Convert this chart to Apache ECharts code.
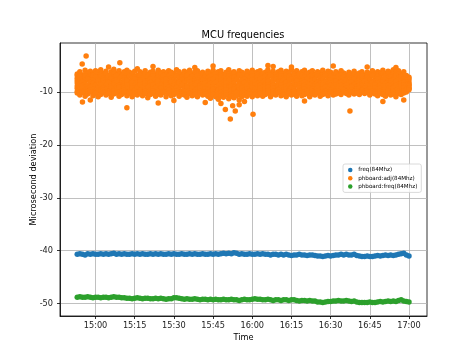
<!DOCTYPE html>
<html>
<head>
<meta charset="utf-8">
<script src="https://cdn.jsdelivr.net/npm/echarts@6/dist/echarts.min.js"></script>
<style>
html,body{margin:0;padding:0;background:#fff;}
#chart{width:474px;height:355px;}
</style>
</head>
<body>
<div id="chart"></div>
<script>
// Time of each sample, minutes relative to 15:00
const sampleMinutes = [-7,-6,-5,-4,-3,-2,-1,0,1,2,3,4,5,6,7,8,9,10,11,12,13,14,15,16,17,18,19,20,21,22,23,24,25,26,27,28,29,30,31,32,33,34,35,36,37,38,39,40,41,42,43,44,45,46,47,48,49,50,51,52,53,54,55,56,57,58,59,60,61,62,63,64,65,66,67,68,69,70,71,72,73,74,75,76,77,78,79,80,81,82,83,84,85,86,87,88,89,90,91,92,93,94,95,96,97,98,99,100,101,102,103,104,105,106,107,108,109,110,111,112,113,114,115,116,117,118,119,120];

const tickMinutes = [0,15,30,45,60,75,90,105,120];
const tickLabels = ['15:00','15:15','15:30','15:45','16:00','16:15','16:30','16:45','17:00'];
const yTicks = [-50,-40,-30,-20,-10];

const seriesNames = ['freq(84Mhz)','phboard:adj(84Mhz)','phboard:freq(84Mhz)'];

// freq(84Mhz)
const freqValues = [
-40.7,-40.6,-40.7,-40.8,-40.6,-40.7,-40.6,-40.7,-40.7,-40.6,
-40.7,-40.6,-40.7,-40.6,-40.5,-40.7,-40.6,-40.7,-40.6,-40.7,
-40.7,-40.6,-40.7,-40.6,-40.7,-40.6,-40.7,-40.7,-40.6,-40.7,
-40.6,-40.7,-40.6,-40.7,-40.7,-40.6,-40.7,-40.6,-40.7,-40.7,
-40.6,-40.7,-40.7,-40.6,-40.7,-40.6,-40.7,-40.7,-40.6,-40.7,
-40.7,-40.6,-40.7,-40.6,-40.7,-40.6,-40.5,-40.6,-40.5,-40.6,
-40.4,-40.5,-40.7,-40.6,-40.7,-40.7,-40.6,-40.7,-40.7,-40.6,
-40.7,-40.6,-40.7,-40.7,-40.8,-40.7,-40.7,-40.8,-40.7,-40.8,
-40.7,-40.8,-40.9,-40.8,-40.8,-40.7,-40.8,-40.8,-40.9,-40.8,
-40.8,-40.9,-41.0,-41.0,-41.1,-41.0,-40.9,-41.0,-40.9,-40.8,
-40.8,-40.7,-40.8,-40.7,-40.8,-40.8,-40.7,-40.9,-41.0,-41.1,
-41.1,-41.0,-41.1,-41.1,-41.0,-40.9,-41.0,-40.9,-40.8,-40.9,
-40.8,-40.9,-40.8,-40.7,-40.6,-40.5,-40.8,-41.0];

// phboard:freq(84Mhz)
const phFreqValues = [
-48.8,-48.7,-48.8,-48.8,-48.7,-48.8,-48.9,-48.8,-48.8,-48.9,
-48.8,-48.8,-48.9,-48.8,-48.7,-48.8,-48.8,-48.9,-48.9,-49.0,
-49.0,-49.1,-49.0,-48.9,-49.0,-49.1,-49.0,-49.0,-49.1,-49.1,
-49.0,-49.1,-49.0,-49.1,-49.2,-49.1,-49.1,-48.9,-48.9,-49.0,
-49.1,-49.2,-49.1,-49.2,-49.2,-49.1,-49.2,-49.3,-49.2,-49.2,
-49.3,-49.2,-49.3,-49.2,-49.3,-49.3,-49.2,-49.3,-49.3,-49.2,
-49.3,-49.3,-49.4,-49.3,-49.2,-49.3,-49.3,-49.2,-49.1,-49.2,
-49.2,-49.3,-49.3,-49.2,-49.3,-49.4,-49.3,-49.3,-49.4,-49.3,
-49.3,-49.4,-49.3,-49.3,-49.4,-49.5,-49.4,-49.4,-49.5,-49.4,
-49.5,-49.5,-49.7,-49.7,-49.8,-49.7,-49.6,-49.6,-49.5,-49.5,
-49.4,-49.5,-49.5,-49.4,-49.5,-49.6,-49.5,-49.7,-49.8,-49.8,
-49.8,-49.8,-49.7,-49.8,-49.8,-49.7,-49.6,-49.7,-49.6,-49.5,
-49.6,-49.5,-49.6,-49.4,-49.3,-49.5,-49.6,-49.7];

// phboard:adj(84Mhz) - the dense band, read as several rows per sample time
const adjTop = [
-6.6,-6.2,-6.8,-5.9,-6.4,-6.1,-6.7,-6.0,-6.3,-5.8,
-6.5,-6.1,-6.9,-6.2,-5.7,-6.4,-6.0,-6.6,-6.2,-5.9,
-6.3,-6.8,-6.1,-5.6,-6.2,-6.5,-6.0,-6.7,-6.3,-6.1,
-6.6,-5.9,-6.4,-6.2,-6.8,-6.0,-6.3,-6.5,-5.8,-6.2,
-6.7,-6.1,-6.4,-5.9,-6.6,-6.2,-6.0,-6.5,-6.3,-6.8,
-6.1,-6.4,-5.9,-6.6,-6.2,-6.0,-6.7,-6.3,-5.8,-6.4,
-6.2,-6.6,-6.0,-6.3,-6.9,-6.1,-6.4,-5.9,-6.5,-6.2,
-6.0,-6.6,-6.3,-5.8,-6.4,-6.1,-6.7,-6.2,-5.9,-6.5,
-6.1,-6.3,-5.7,-6.4,-6.0,-6.6,-6.2,-5.9,-6.5,-6.3,
-6.0,-6.7,-6.2,-6.4,-5.9,-6.6,-6.1,-6.3,-6.8,-6.2,
-6.5,-6.0,-6.4,-6.9,-6.3,-6.6,-6.1,-6.7,-6.4,-6.2,
-6.8,-6.3,-6.5,-6.0,-6.6,-6.2,-6.4,-5.9,-6.5,-6.1,
-6.3,-5.8,-6.4,-6.0,-6.6,-6.2,-6.9,-7.2];
const adjUpper2 = [
-6.9,-6.6,-7.1,-6.7,-6.5,-7.0,-6.8,-6.6,-7.2,-6.7,
-6.9,-6.5,-7.0,-6.8,-6.6,-7.1,-6.7,-6.9,-6.5,-7.0,
-6.8,-6.6,-7.1,-6.9,-6.7,-7.0,-6.5,-6.8,-7.2,-6.6,
-7.0,-6.8,-6.6,-7.1,-6.7,-6.9,-6.5,-7.0,-6.8,-6.6,
-7.1,-6.7,-6.9,-6.6,-7.0,-6.8,-6.5,-7.2,-6.7,-6.9,
-6.6,-7.0,-6.8,-6.5,-7.1,-6.7,-6.9,-6.6,-7.0,-6.8,
-6.5,-7.1,-6.7,-6.9,-6.6,-7.0,-6.8,-6.5,-7.2,-6.7,
-6.9,-6.6,-7.0,-6.8,-6.5,-7.1,-6.7,-6.9,-6.6,-7.0,
-6.8,-6.5,-7.1,-6.7,-6.9,-6.6,-7.0,-6.8,-6.5,-7.2,
-6.7,-6.9,-6.6,-7.0,-6.8,-6.5,-7.1,-6.7,-6.9,-6.6,
-7.0,-6.8,-6.9,-7.1,-6.7,-7.0,-6.8,-7.2,-6.9,-6.7,
-7.1,-6.8,-7.0,-6.6,-6.9,-6.7,-7.0,-6.5,-6.8,-6.6,
-6.9,-6.7,-7.0,-6.6,-6.8,-6.7,-7.3,-7.6];
const adjUpper = [
-7.4,-7.1,-7.6,-7.0,-7.3,-7.5,-6.9,-7.2,-7.7,-7.1,
-7.3,-7.6,-7.0,-7.4,-7.2,-6.9,-7.5,-7.1,-7.3,-7.7,
-7.0,-7.4,-7.2,-7.6,-6.9,-7.3,-7.5,-7.1,-7.4,-7.0,
-7.6,-7.2,-7.3,-6.9,-7.5,-7.1,-7.4,-7.7,-7.0,-7.3,
-7.2,-7.6,-7.0,-7.4,-7.1,-7.5,-6.9,-7.3,-7.6,-7.2,
-7.4,-7.0,-7.5,-7.2,-7.7,-7.1,-7.3,-7.6,-7.0,-7.4,
-7.2,-7.5,-6.9,-7.3,-7.6,-7.1,-7.4,-7.0,-7.5,-7.2,
-7.3,-7.7,-7.1,-7.4,-6.9,-7.5,-7.2,-7.6,-7.0,-7.3,
-7.4,-7.1,-7.6,-7.0,-7.3,-7.5,-6.9,-7.2,-7.7,-7.1,
-7.3,-7.6,-7.0,-7.4,-7.2,-6.9,-7.5,-7.1,-7.3,-7.7,
-7.0,-7.4,-7.2,-7.6,-6.9,-7.3,-7.5,-7.1,-7.4,-7.0,
-7.6,-7.2,-7.3,-6.9,-7.5,-7.1,-7.4,-7.7,-7.0,-7.3,
-7.2,-7.6,-7.0,-7.4,-7.1,-7.5,-7.8,-8.1];
const adjMid2 = [
-7.9,-7.7,-8.0,-7.8,-7.6,-8.1,-7.8,-7.9,-7.7,-8.0,
-7.7,-8.1,-7.9,-7.6,-8.0,-7.8,-7.9,-8.1,-7.7,-7.8,
-8.0,-7.9,-7.6,-8.1,-7.8,-7.7,-8.0,-7.9,-7.6,-8.2,
-7.8,-7.7,-8.0,-7.9,-7.6,-8.1,-7.8,-7.7,-8.0,-7.9,
-7.7,-8.1,-7.8,-7.6,-8.0,-7.9,-7.7,-8.2,-7.8,-7.9,
-8.1,-7.8,-7.7,-8.2,-7.9,-7.8,-8.1,-7.9,-7.8,-8.2,
-7.9,-7.7,-8.1,-7.8,-7.6,-8.0,-7.9,-7.7,-8.1,-7.8,
-7.6,-8.0,-7.9,-7.7,-8.1,-7.8,-7.6,-8.0,-7.9,-7.8,
-8.1,-7.7,-7.6,-8.0,-7.8,-7.9,-8.1,-7.7,-7.6,-8.0,
-7.8,-7.7,-8.1,-7.9,-7.6,-8.0,-7.8,-7.7,-8.1,-7.9,
-7.7,-8.0,-7.8,-7.9,-8.1,-7.7,-7.6,-8.0,-7.8,-7.9,
-8.1,-7.7,-7.8,-8.0,-7.9,-7.6,-8.1,-7.8,-7.7,-8.0,
-7.9,-7.8,-8.0,-7.7,-7.9,-8.1,-8.2,-8.5];
const adjMid = [
-8.3,-8.6,-8.1,-8.5,-8.8,-8.2,-8.4,-8.7,-8.0,-8.5,
-8.3,-8.9,-8.2,-8.6,-8.4,-8.1,-8.7,-8.3,-8.5,-8.0,
-8.6,-8.2,-8.8,-8.4,-8.1,-8.5,-8.3,-8.7,-8.2,-8.6,
-8.4,-8.0,-8.5,-8.8,-8.3,-8.6,-8.1,-8.4,-8.7,-8.2,
-8.5,-8.3,-8.9,-8.1,-8.6,-8.4,-8.2,-8.7,-8.5,-8.3,
-8.8,-8.4,-8.6,-8.2,-8.9,-8.5,-8.7,-8.3,-8.8,-8.6,
-8.4,-8.9,-8.5,-8.7,-8.2,-8.6,-8.3,-8.5,-8.1,-8.4,
-8.7,-8.2,-8.5,-8.0,-8.6,-8.3,-8.8,-8.1,-8.4,-8.6,
-8.2,-8.5,-8.7,-8.3,-8.0,-8.6,-8.4,-8.1,-8.5,-8.8,
-8.3,-8.6,-8.2,-8.4,-8.7,-8.1,-8.5,-8.3,-8.6,-8.0,
-8.4,-8.2,-8.5,-8.7,-8.3,-8.1,-8.6,-8.4,-8.2,-8.5,
-8.0,-8.4,-8.7,-8.2,-8.5,-8.3,-8.6,-8.1,-8.4,-8.7,
-8.3,-8.5,-8.1,-8.6,-8.4,-8.2,-8.5,-8.7];
const adjLower2 = [
-8.9,-9.1,-8.8,-9.0,-8.7,-9.2,-8.9,-8.8,-9.1,-8.7,
-9.0,-8.8,-9.2,-8.9,-8.7,-9.1,-8.8,-9.0,-8.9,-8.7,
-9.2,-8.9,-8.8,-9.1,-8.7,-9.0,-8.9,-9.2,-8.8,-8.7,
-9.1,-8.9,-8.8,-9.0,-8.7,-9.2,-8.9,-8.8,-9.1,-9.0,
-8.8,-9.2,-8.9,-9.0,-9.1,-8.8,-9.2,-8.9,-9.0,-9.3,
-8.9,-9.2,-9.0,-9.3,-8.9,-9.1,-9.3,-9.0,-9.2,-8.9,
-9.1,-9.3,-8.9,-9.0,-9.2,-8.8,-9.1,-8.9,-8.7,-9.0,
-8.8,-9.1,-8.9,-8.7,-9.0,-8.8,-9.2,-8.9,-8.7,-9.1,
-8.9,-8.8,-9.0,-9.2,-8.7,-8.9,-9.1,-8.8,-9.0,-8.7,
-9.2,-8.9,-8.8,-9.1,-8.7,-9.0,-8.9,-8.8,-9.1,-8.7,
-8.9,-8.8,-9.0,-8.7,-9.1,-8.9,-8.8,-9.0,-8.7,-8.9,
-9.1,-8.8,-8.9,-9.0,-8.7,-9.1,-8.8,-8.9,-9.0,-8.8,
-8.9,-9.1,-8.8,-9.0,-8.9,-8.7,-8.8,-8.9];
const adjLower = [
-9.3,-9.6,-9.2,-9.7,-9.4,-9.1,-9.5,-9.8,-9.3,-9.6,
-9.2,-9.5,-9.9,-9.3,-9.6,-9.4,-9.1,-9.7,-9.3,-9.5,
-9.8,-9.2,-9.6,-9.4,-9.9,-9.3,-9.5,-9.1,-9.7,-9.4,
-9.2,-9.6,-9.3,-9.8,-9.5,-9.1,-9.4,-9.7,-9.3,-9.6,
-9.9,-9.4,-9.2,-9.6,-9.3,-9.7,-9.5,-9.2,-9.8,-9.4,
-9.6,-9.9,-9.5,-10.0,-9.7,-9.4,-9.8,-9.6,-10.1,-9.7,
-9.5,-9.9,-9.6,-9.3,-9.7,-9.4,-9.8,-9.2,-9.5,-9.6,
-9.3,-9.7,-9.4,-9.1,-9.6,-9.3,-9.8,-9.5,-9.2,-9.6,
-9.4,-9.7,-9.3,-9.5,-9.9,-9.2,-9.6,-9.4,-9.7,-9.3,
-9.5,-9.8,-9.2,-9.6,-9.4,-9.1,-9.5,-9.7,-9.3,-9.6,
-9.2,-9.4,-9.7,-9.3,-9.5,-9.1,-9.6,-9.4,-9.2,-9.5,
-9.3,-9.6,-9.4,-9.8,-9.2,-9.5,-9.3,-9.7,-9.4,-9.6,
-9.5,-9.3,-9.7,-9.4,-9.6,-9.2,-9.5,-9.3];
const adjBottom2 = [
-9.9,-10.1,-9.8,-10.2,-9.9,-9.7,-10.0,-10.2,-9.8,-10.0,
-9.7,-10.1,-9.9,-10.3,-9.8,-10.0,-10.2,-9.9,-9.7,-10.1,
-10.0,-10.2,-9.8,-10.0,-9.7,-10.1,-9.9,-10.3,-10.0,-9.8,
-10.1,-9.9,-10.2,-9.8,-10.0,-9.7,-10.1,-9.9,-9.8,-10.2,
-10.0,-9.9,-10.3,-9.8,-10.1,-10.0,-10.2,-9.9,-10.1,-10.0,
-10.2,-10.4,-10.0,-10.3,-10.5,-10.1,-10.4,-10.2,-10.6,-10.3,
-10.4,-10.1,-10.5,-10.2,-10.0,-10.2,-9.9,-10.3,-10.0,-10.1,
-9.8,-10.2,-10.0,-9.8,-10.3,-9.9,-10.1,-9.7,-10.2,-10.0,
-10.3,-9.9,-10.1,-9.9,-10.2,-9.8,-10.1,-10.0,-9.8,-10.3,
-9.9,-10.1,-9.8,-10.2,-10.0,-9.9,-10.1,-9.7,-10.0,-9.9,
-9.8,-10.0,-9.7,-9.9,-10.1,-9.7,-9.9,-9.8,-10.0,-9.7,
-9.9,-9.8,-10.1,-9.8,-10.0,-10.2,-9.9,-10.0,-10.2,-9.8,
-10.1,-9.9,-10.3,-9.9,-10.0,-9.8,-9.6,-9.3];
const adjBottom = [
-10.2,-10.6,-10.1,-10.8,-10.4,-10.0,-10.7,-10.3,-10.9,-10.5,
-10.1,-10.6,-10.3,-11.0,-10.4,-10.2,-10.8,-10.5,-10.1,-10.7,
-10.3,-10.9,-10.4,-10.6,-10.0,-10.7,-10.3,-11.1,-10.5,-10.2,
-10.8,-10.4,-10.6,-10.1,-10.9,-10.3,-10.7,-10.5,-10.2,-10.8,
-10.4,-10.6,-11.0,-10.3,-10.7,-10.5,-10.9,-10.2,-10.6,-10.4,
-10.8,-11.2,-10.5,-10.9,-11.4,-10.7,-11.0,-10.6,-11.3,-10.8,
-11.1,-10.7,-11.5,-10.9,-10.6,-10.8,-10.4,-10.9,-10.5,-10.7,
-10.3,-10.8,-10.5,-10.2,-10.9,-10.4,-10.6,-10.1,-10.7,-10.5,
-10.9,-10.3,-10.6,-10.4,-10.8,-10.2,-10.7,-10.5,-10.3,-10.9,
-10.4,-10.6,-10.2,-10.8,-10.5,-10.3,-10.7,-10.1,-10.6,-10.4,
-10.2,-10.5,-10.0,-10.3,-10.6,-10.1,-10.4,-10.2,-10.5,-10.0,
-10.3,-10.1,-10.6,-10.2,-10.4,-10.7,-10.3,-10.5,-10.8,-10.2,
-10.6,-10.4,-10.9,-10.3,-10.5,-10.2,-10.0,-9.6];
// isolated phboard:adj points outside the band: minute, value
const adjOutlierMinutes = [-3.6,-5.1,9.3,12,49.7,51.6,53.5,52.5,48,60.3,97.4,91,66,68,-5,-2,5,22,30,38,45,55,57,75,80,104,110,115,118,24,42];
const adjOutlierValues  = [-3.2,-4.7,-4.5,-13.0,-13.3,-15.1,-13.6,-12.6,-12.2,-14.2,-13.6,-5.1,-5.0,-5.2,-11.9,-11.5,-5.3,-5.2,-11.6,-5.4,-5.1,-12.4,-11.8,-5.3,-11.7,-5.3,-11.8,-5.4,-11.5,-12.1,-12.0];

const pairs = (xs, ys) => xs.map((x, i) => [x, ys[i]]).filter(p => p[1] !== undefined);
const adjData = [adjTop, adjUpper2, adjUpper, adjMid2, adjMid, adjLower2, adjLower, adjBottom2, adjBottom]
  .reduce((acc, row) => acc.concat(pairs(sampleMinutes, row)), [])
  .concat(pairs(adjOutlierMinutes, adjOutlierValues));

const FONT = 'DejaVu Sans';
const colors = ['#1f77b4', '#ff7f0e', '#2ca02c'];

const chart = echarts.init(document.getElementById('chart'), null, {renderer: 'canvas'});
chart.setOption({
  animation: false,
  backgroundColor: '#fff',
  color: colors,
  title: {
    text: 'MCU frequencies',
    left: 243, textAlign: 'center',
    top: 30,
    padding: 0,
    textStyle: {fontFamily: FONT, fontSize: 9.8, fontWeight: 'normal', color: '#000'}
  },
  legend: {
    orient: 'vertical',
    left: 343, top: 164,
    padding: [3, 4, 3, 5],
    itemWidth: 8, itemHeight: 4.5,
    itemGap: 2.2,
    icon: 'circle',
    borderColor: '#d0d0d0', borderWidth: 0.8, borderRadius: 2,
    backgroundColor: 'rgba(255,255,255,0.8)',
    textStyle: {fontFamily: FONT, fontSize: 5.6, color: '#000', padding: [0, 0, 0, -1]},
    data: seriesNames
  },
  grid: {
    left: 60, right: 47, top: 43, bottom: 39,
    show: true, borderColor: '#000', borderWidth: 0.8, backgroundColor: 'transparent'
  },
  xAxis: {
    type: 'value',
    min: -13.6, max: 126.9,
    name: 'Time', nameLocation: 'middle', nameGap: 18, nameMoveOverlap: false,
    nameTextStyle: {fontFamily: FONT, fontSize: 8.2, color: '#000'},
    axisLine: {show: true, onZero: false, lineStyle: {color: '#000', width: 0.8}},
    axisTick: {show: true, length: 3, lineStyle: {color: '#000', width: 0.8}, customValues: tickMinutes},
    axisLabel: {
      customValues: tickMinutes, margin: 6,
      fontFamily: FONT, fontSize: 8.2, color: '#222',
      formatter: v => tickLabels[tickMinutes.indexOf(v)]
    },
    splitLine: {show: true, lineStyle: {color: '#b0b0b0', width: 0.8}}
  },
  yAxis: {
    type: 'value',
    min: -52.35, max: -0.75,
    name: 'Microsecond deviation', nameLocation: 'middle', nameGap: 22, nameMoveOverlap: false,
    nameTextStyle: {fontFamily: FONT, fontSize: 8.2, color: '#000'},
    axisLine: {show: true, onZero: false, lineStyle: {color: '#000', width: 0.8}},
    axisTick: {show: true, length: 3, lineStyle: {color: '#000', width: 0.8}, customValues: yTicks},
    axisLabel: {customValues: yTicks, margin: 7, fontFamily: FONT, fontSize: 8.2, color: '#222'},
    splitLine: {show: true, lineStyle: {color: '#b0b0b0', width: 0.8}}
  },
  series: [
    {name: seriesNames[0], type: 'scatter', symbolSize: 5.5, data: pairs(sampleMinutes, freqValues), itemStyle: {color: colors[0], opacity: 1}},
    {name: seriesNames[1], type: 'scatter', symbolSize: 5.5, data: adjData, itemStyle: {color: colors[1], opacity: 1}},
    {name: seriesNames[2], type: 'scatter', symbolSize: 5.5, data: pairs(sampleMinutes, phFreqValues), itemStyle: {color: colors[2], opacity: 1}}
  ]
});
</script>
</body>
</html>
